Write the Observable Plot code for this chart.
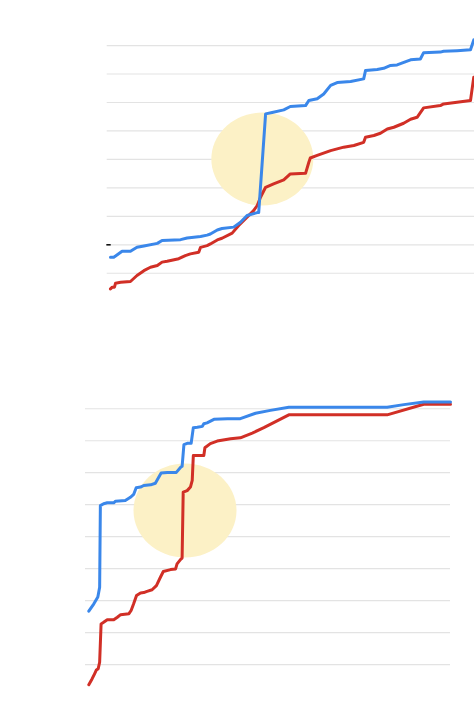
<!DOCTYPE html>
<html>
<head>
<meta charset="utf-8">
<script src="https://cdn.jsdelivr.net/npm/d3@7"></script>
<script src="https://cdn.jsdelivr.net/npm/@observablehq/plot@0.6"></script>
<style>
  html, body { margin: 0; padding: 0; background: #fff; }
  #chart { width: 474px; }
  #chart svg { display: block; }
</style>
</head>
<body>
<div id="chart"></div>
<script>
// ---- Data (x: 0–100 across each panel, y: gridline units 0..80) ----
const gridTicks = [0, 10, 20, 30, 40, 50, 60, 70, 80];

// Top panel
const topBlueX = [0, 0.9, 3.2, 5.5, 7.3, 9.2, 12.9, 14.2, 19.3, 21.1, 24.8, 26.6, 27.5, 29.4, 30.7, 33.9, 35.8, 37.6, 40.4, 40.8, 42.7, 44.5, 47.7, 49.5, 53.7, 54.6, 56.9, 58.7, 60.6, 62.4, 66.1, 69.7, 70.2, 73.4, 75.2, 77.1, 78.9, 82.6, 85.3, 86.2, 90.8, 91.7, 95.4, 99.1, 100];
const topBlueY = [5.6, 5.6, 7.7, 7.7, 9.1, 9.6, 10.5, 11.5, 11.8, 12.4, 12.9, 13.4, 13.8, 15.2, 15.7, 16.2, 17.9, 20.3, 21.3, 21.3, 56.0, 56.5, 57.4, 58.6, 58.9, 60.7, 61.3, 63.0, 66.0, 67.0, 67.4, 68.3, 71.2, 71.6, 72.0, 73.0, 73.2, 75.0, 75.3, 77.5, 77.7, 78.0, 78.2, 78.5, 82.0];
const topRedX = [0, 0.5, 1.1, 1.4, 2.8, 5.5, 7.3, 9.2, 11.0, 12.9, 14.2, 15.6, 18.8, 20.6, 22.0, 24.3, 24.8, 26.6, 27.5, 29.4, 30.7, 33.5, 35.3, 37.6, 39.4, 40.4, 41.3, 42.7, 44.9, 47.7, 49.5, 53.7, 54.6, 55.0, 56.9, 60.6, 64.2, 67.0, 69.7, 70.2, 72.5, 74.3, 76.2, 78.0, 80.7, 82.6, 84.4, 86.2, 90.8, 91.7, 95.4, 99.1, 100];
const topRedY = [-5.5, -4.9, -4.9, -3.5, -3.2, -2.9, -0.8, 0.9, 2.1, 2.7, 3.9, 4.2, 5.1, 6.2, 6.8, 7.4, 9.1, 9.7, 10.3, 11.7, 12.3, 14.1, 16.8, 19.7, 22.0, 23.8, 26.7, 30.2, 31.4, 32.8, 34.9, 35.1, 39.0, 40.5, 41.4, 43.1, 44.3, 44.9, 46.0, 47.8, 48.4, 49.2, 50.7, 51.3, 52.7, 54.1, 54.8, 58.1, 58.9, 59.5, 60.1, 60.7, 68.9];
const topHighlight = [{x: 41.8, y: 40.1}];
const topDash = [10];

// Bottom panel
const botBlueX = [0, 1.4, 2.5, 3.0, 3.2, 4.1, 5.1, 6.9, 7.4, 10.1, 11.5, 12.4, 13.1, 14.3, 15.2, 17.1, 18.4, 20.0, 21.7, 24.2, 25.4, 25.8, 26.3, 27.2, 28.3, 28.9, 30.0, 31.4, 31.8, 32.7, 34.6, 38.3, 41.9, 46.1, 50.2, 55.3, 59.4, 82.5, 87.1, 92.6, 100];
const botBlueY = [16.7, 19.0, 21.1, 24.2, 49.7, 50.3, 50.6, 50.6, 51.1, 51.3, 52.3, 53.2, 55.3, 55.5, 56.0, 56.2, 56.7, 59.9, 60.1, 60.1, 61.7, 62.0, 68.8, 69.2, 69.2, 74.1, 74.2, 74.5, 75.3, 75.6, 76.7, 76.9, 76.9, 78.6, 79.5, 80.5, 80.5, 80.5, 81.3, 82.1, 82.1];
const botRedX = [0, 0.9, 1.6, 2.1, 2.6, 3.0, 3.4, 4.1, 5.1, 6.9, 7.9, 8.8, 11.1, 11.7, 12.4, 13.2, 14.3, 15.2, 16.1, 17.5, 18.7, 19.8, 20.6, 22.6, 24.0, 24.4, 25.4, 25.8, 26.1, 27.2, 28.1, 28.6, 28.9, 30.0, 31.8, 32.1, 33.6, 35.5, 39.2, 41.9, 45.2, 48.4, 55.3, 82.5, 92.6, 100];
const botRedY = [-6.3, -4.5, -2.9, -1.7, -1.3, 0.7, 12.7, 13.2, 14.0, 14.0, 14.8, 15.6, 15.9, 16.9, 19.0, 21.6, 22.4, 22.5, 22.9, 23.4, 24.7, 27.3, 29.1, 29.7, 29.9, 31.5, 32.9, 33.3, 53.9, 54.4, 55.5, 57.6, 65.4, 65.4, 65.4, 67.8, 69.1, 69.9, 70.6, 70.9, 72.4, 74.1, 78.1, 78.1, 81.4, 81.4];
const botHighlight = [{x: 26.6, y: 48.2}];

// ---- Styles ----
const BLUE = "#3a87ea";
const RED = "#d12f26";
const HIGHLIGHT = "#fcf1c6";
const GRID = "#e3e3e3";

const toRows = (xs, ys) => xs.map((x, i) => ({x, y: ys[i]}));

function ellipseSymbol(rx, ry) {
  return {
    draw(ctx) {
      const k = 0.5522847498;
      ctx.moveTo(rx, 0);
      ctx.bezierCurveTo(rx, ry * k, rx * k, ry, 0, ry);
      ctx.bezierCurveTo(-rx * k, ry, -rx, ry * k, -rx, 0);
      ctx.bezierCurveTo(-rx, -ry * k, -rx * k, -ry, 0, -ry);
      ctx.bezierCurveTo(rx * k, -ry, rx, -ry * k, rx, 0);
      ctx.closePath();
    }
  };
}

const topPlot = Plot.plot({
  width: 474,
  height: 320,
  marginLeft: 106.7,
  marginRight: 0,
  marginTop: 16.6,
  marginBottom: 18.8,
  x: {domain: [-0.9, 100.2], axis: null},
  y: {domain: [-10, 90], axis: null},
  marks: [
    Plot.gridY(gridTicks, {stroke: GRID, strokeOpacity: 1, strokeWidth: 1.2}),
    Plot.dot(topHighlight, {x: "x", y: "y", symbol: ellipseSymbol(51, 46.5), fill: HIGHLIGHT, stroke: "none"}),
    Plot.ruleY(topDash, {x1: -1.0, x2: 0.2, stroke: "#111", strokeWidth: 1.6}),
    Plot.line(toRows(topRedX, topRedY), {x: "x", y: "y", stroke: RED, strokeWidth: 3, curve: "linear"}),
    Plot.line(toRows(topBlueX, topBlueY), {x: "x", y: "y", stroke: BLUE, strokeWidth: 3, curve: "linear"})
  ]
});

const botPlot = Plot.plot({
  width: 474,
  height: 404,
  marginLeft: 85,
  marginRight: 24,
  marginTop: 56.3,
  marginBottom: 28,
  x: {domain: [-0.91, 100], axis: null},
  y: {domain: [-10, 90], axis: null},
  marks: [
    Plot.gridY(gridTicks, {stroke: GRID, strokeOpacity: 1, strokeWidth: 1.2}),
    Plot.dot(botHighlight, {x: "x", y: "y", symbol: ellipseSymbol(51.5, 47), fill: HIGHLIGHT, stroke: "none"}),
    Plot.line(toRows(botRedX, botRedY), {x: "x", y: "y", stroke: RED, strokeWidth: 3, curve: "linear"}),
    Plot.line(toRows(botBlueX, botBlueY), {x: "x", y: "y", stroke: BLUE, strokeWidth: 3, curve: "linear"})
  ]
});

document.getElementById("chart").append(topPlot, botPlot);
</script>
</body>
</html>
